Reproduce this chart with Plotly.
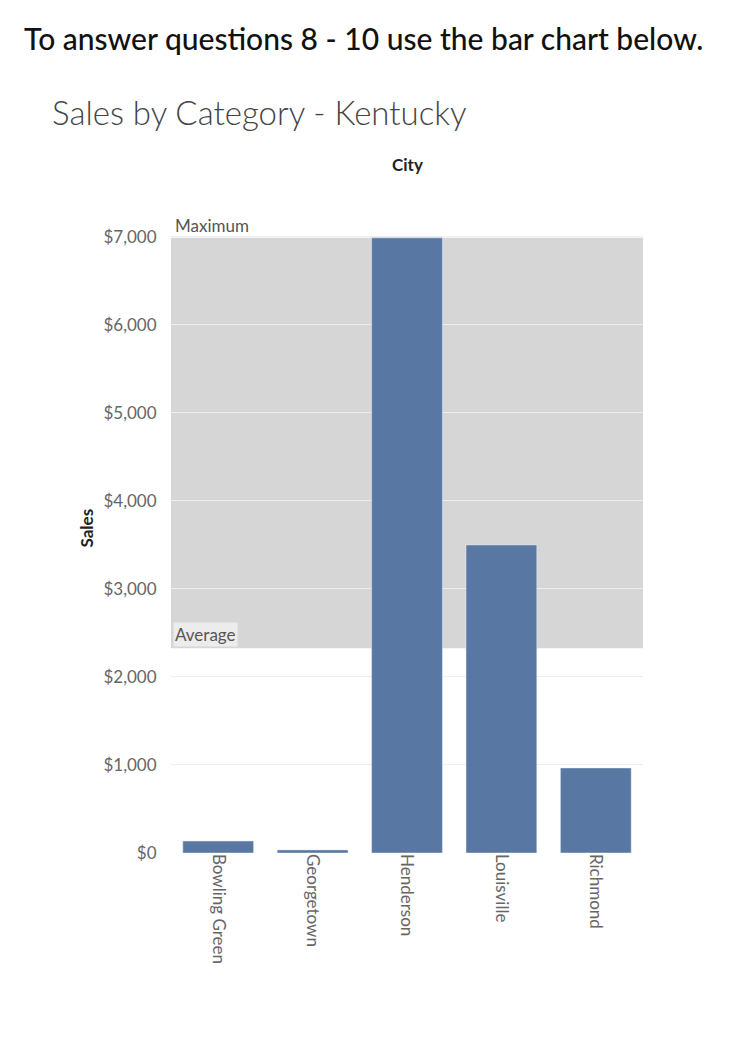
import plotly.graph_objects as go

cities = ["Bowling Green", "Georgetown", "Henderson", "Louisville", "Richmond"]
sales = [136, 35, 6990, 3500, 966]
tick_vals = [0, 1000, 2000, 3000, 4000, 5000, 6000, 7000]
tick_text = ["$0", "$1,000", "$2,000", "$3,000", "$4,000", "$5,000", "$6,000", "$7,000"]

avg = sum(sales) / len(sales)
mx = max(sales)

fig = go.Figure(go.Bar(x=cities, y=sales, marker_color="#5878a3", width=0.75))

H0, PH = 853, 675
def py(p):
    return (H0 - p) / PH

fig.add_shape(type="rect", xref="paper", yref="y", x0=0, x1=1, y0=avg, y1=mx,
              fillcolor="#d6d6d6", line_width=0, layer="below")
fig.add_annotation(x=0, xref="paper", y=mx, yref="y", text="Maximum", showarrow=False,
                   xanchor="left", yanchor="bottom", font=dict(size=17, color="#555"), xshift=2)
fig.add_annotation(x=0, xref="paper", y=avg, yref="y", text="Average", showarrow=False,
                   xanchor="left", yanchor="bottom", font=dict(size=17, color="#555"),
                   bgcolor="#ececec", xshift=2, yshift=1)

fig.add_annotation(x=-149/472, xref="paper", y=py(38), yref="paper", xanchor="left", yanchor="middle",
                   text="To answer questions 8 - 10 use the bar chart below.", showarrow=False,
                   font=dict(size=30, color="#111", family="Lato", weight=500))
fig.add_annotation(x=-121/472, xref="paper", y=py(112), yref="paper", xanchor="left", yanchor="middle",
                   text="Sales by Category - Kentucky", showarrow=False,
                   font=dict(size=33, color="#444", family="Lato", weight=300))
fig.add_annotation(x=0.5, xref="paper", y=py(164), yref="paper", yanchor="middle",
                   text="<b>City</b>", showarrow=False, font=dict(size=17, color="#222"))
fig.add_annotation(x=-98/472, xref="paper", y=py(528), yref="paper", textangle=-90,
                   text="<b>Sales</b>", showarrow=False, font=dict(size=17, color="#222"))

fig.update_layout(
    width=748, height=1042, margin=dict(l=163, r=113, t=170, b=197),
    paper_bgcolor="white", plot_bgcolor="white", showlegend=False,
    font=dict(family="Lato", color="#666"),
    bargap=0.25,
)
fig.update_xaxes(tickangle=90, tickfont=dict(size=17, color="#666"), showgrid=False,
                 ticks="", showline=False)
fig.update_yaxes(range=[0, 7670], tickvals=tick_vals, ticktext=tick_text,
                 tickfont=dict(size=17, color="#666"), gridcolor="#eeeeee", zeroline=False,
                 ticks="outside", tickcolor="white", ticklen=10)
fig.write_html("out.html")
